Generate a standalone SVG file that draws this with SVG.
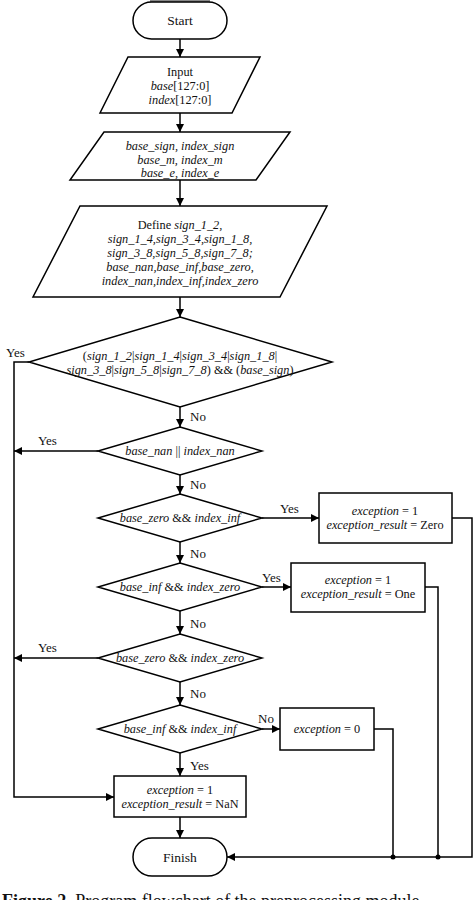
<svg xmlns="http://www.w3.org/2000/svg" width="474" height="900" viewBox="0 0 474 900">
<defs>
<marker id="arr" viewBox="0 0 10 10" refX="10" refY="5" markerWidth="8" markerHeight="8" markerUnits="userSpaceOnUse" orient="auto">
<path d="M0,0 L10,5 L0,10 z" fill="#000"/>
</marker>
<style>
.s{fill:#fff;stroke:#000;stroke-width:1.5}
.c{fill:none;stroke:#000;stroke-width:1.5}
text{font-family:"Liberation Serif","DejaVu Serif",serif;fill:#111}
.t{font-size:12.3px;text-anchor:middle}
.b{font-size:13.5px;text-anchor:middle}
.l{font-size:13px}
.i{font-style:italic}
</style>
</defs>
<rect x="150" y="0" width="60" height="2" fill="#888"/>
<g id="connectors">
<line class="c" x1="180" y1="39" x2="180" y2="57" marker-end="url(#arr)"/>
<line class="c" x1="180" y1="113" x2="180" y2="132" marker-end="url(#arr)"/>
<line class="c" x1="180" y1="180" x2="180" y2="206" marker-end="url(#arr)"/>
<line class="c" x1="180" y1="297" x2="180" y2="317" marker-end="url(#arr)"/>
<line class="c" x1="180" y1="407" x2="180" y2="427" marker-end="url(#arr)"/>
<polyline class="c" points="29,362 14,362 14,797 114,797" marker-end="url(#arr)"/>
<line class="c" x1="98" y1="451" x2="14" y2="451" marker-end="url(#arr)"/>
<line class="c" x1="180" y1="475" x2="180" y2="494" marker-end="url(#arr)"/>
<line class="c" x1="262" y1="518" x2="319" y2="518" marker-end="url(#arr)"/>
<line class="c" x1="180" y1="542" x2="180" y2="563" marker-end="url(#arr)"/>
<line class="c" x1="262" y1="587" x2="291" y2="587" marker-end="url(#arr)"/>
<line class="c" x1="180" y1="611" x2="180" y2="634" marker-end="url(#arr)"/>
<line class="c" x1="98" y1="658" x2="14" y2="658" marker-end="url(#arr)"/>
<line class="c" x1="180" y1="682" x2="180" y2="705" marker-end="url(#arr)"/>
<line class="c" x1="262" y1="729" x2="280" y2="729" marker-end="url(#arr)"/>
<line class="c" x1="180" y1="753" x2="180" y2="776" marker-end="url(#arr)"/>
<line class="c" x1="180" y1="817" x2="180" y2="838" marker-end="url(#arr)"/>
<polyline class="c" points="452,518 472,518 472,857 227,857" marker-end="url(#arr)"/>
<polyline class="c" points="425,587 438,587 438,857"/>
<polyline class="c" points="374,729 393,729 393,857"/>
<circle cx="393" cy="857" r="2.5" fill="#000"/>
<circle cx="438" cy="857" r="2.5" fill="#000"/>
</g>
<g id="labels">
<text class="l" x="6" y="357">Yes</text>
<text class="l" x="190" y="421">No</text>
<text class="l" x="38" y="445">Yes</text>
<text class="l" x="190" y="489">No</text>
<text class="l" x="280" y="513">Yes</text>
<text class="l" x="190" y="558">No</text>
<text class="l" x="262" y="582">Yes</text>
<text class="l" x="190" y="628">No</text>
<text class="l" x="38" y="652">Yes</text>
<text class="l" x="190" y="698">No</text>
<text class="l" x="258" y="723">No</text>
<text class="l" x="190" y="770">Yes</text>
</g>
<g id="start">
<rect class="s" x="133" y="2" width="94" height="37" rx="18.5"/>
<text class="b" x="180" y="25">Start</text>
</g>
<g id="input">
<polygon class="s" points="128,57 260,57 232,113 100,113"/>
<text class="t" x="180" y="76">Input</text>
<text class="t" x="180" y="90"><tspan class="i">base</tspan>[127:0]</text>
<text class="t" x="180" y="104"><tspan class="i">index</tspan>[127:0]</text>
</g>
<g id="fields">
<polygon class="s" points="104,132 290,132 256,180 70,180"/>
<text class="t i" x="180" y="150">base_sign, index_sign</text>
<text class="t i" x="180" y="164">base_m, index_m</text>
<text class="t i" x="180" y="177">base_e, index_e</text>
</g>
<g id="define">
<polygon class="s" points="80,206 327,206 280,297 33,297"/>
<text class="t" x="180" y="229">Define <tspan class="i">sign_1_2,</tspan></text>
<text class="t i" x="180" y="243">sign_1_4,sign_3_4,sign_1_8,</text>
<text class="t i" x="180" y="257">sign_3_8,sign_5_8,sign_7_8;</text>
<text class="t i" x="180" y="271">base_nan,base_inf,base_zero,</text>
<text class="t i" x="180" y="285">index_nan,index_inf,index_zero</text>
</g>
<g id="d1">
<polygon class="s" points="180,317 332,362 180,407 29,362"/>
<text class="t" x="180" y="360">(<tspan class="i">sign_1_2</tspan>|<tspan class="i">sign_1_4</tspan>|<tspan class="i">sign_3_4</tspan>|<tspan class="i">sign_1_8</tspan>|</text>
<text class="t" x="180" y="374"><tspan class="i">sign_3_8</tspan>|<tspan class="i">sign_5_8</tspan>|<tspan class="i">sign_7_8</tspan>) &amp;&amp; (<tspan class="i">base_sign</tspan>)</text>
</g>
<g id="d2">
<polygon class="s" points="180,427 262,451 180,475 98,451"/>
<text class="t" x="180" y="455"><tspan class="i">base_nan</tspan> || <tspan class="i">index_nan</tspan></text>
</g>
<g id="d3">
<polygon class="s" points="180,494 262,518 180,542 98,518"/>
<text class="t" x="180" y="522"><tspan class="i">base_zero</tspan> &amp;&amp; <tspan class="i">index_inf</tspan></text>
</g>
<g id="r_zero">
<rect class="s" x="319" y="493" width="133" height="50"/>
<text class="t" x="385" y="515"><tspan class="i">exception</tspan> = 1</text>
<text class="t" x="385" y="529"><tspan class="i">exception_result</tspan> = Zero</text>
</g>
<g id="d4">
<polygon class="s" points="180,563 262,587 180,611 98,587"/>
<text class="t" x="180" y="591"><tspan class="i">base_inf</tspan> &amp;&amp; <tspan class="i">index_zero</tspan></text>
</g>
<g id="r_one">
<rect class="s" x="291" y="563" width="134" height="49"/>
<text class="t" x="358" y="584"><tspan class="i">exception</tspan> = 1</text>
<text class="t" x="358" y="598"><tspan class="i">exception_result</tspan> = One</text>
</g>
<g id="d5">
<polygon class="s" points="180,634 262,658 180,682 98,658"/>
<text class="t" x="180" y="662"><tspan class="i">base_zero</tspan> &amp;&amp; <tspan class="i">index_zero</tspan></text>
</g>
<g id="d6">
<polygon class="s" points="180,705 262,729 180,753 98,729"/>
<text class="t" x="180" y="733"><tspan class="i">base_inf</tspan> &amp;&amp; <tspan class="i">index_inf</tspan></text>
</g>
<g id="r_exc0">
<rect class="s" x="280" y="708" width="94" height="42"/>
<text class="t" x="327" y="733"><tspan class="i">exception</tspan> = 0</text>
</g>
<g id="r_nan">
<rect class="s" x="114" y="776" width="132" height="41"/>
<text class="t" x="180" y="794"><tspan class="i">exception</tspan> = 1</text>
<text class="t" x="180" y="808"><tspan class="i">exception_result</tspan> = NaN</text>
</g>
<g id="finish">
<rect class="s" x="133" y="838" width="94" height="38" rx="19"/>
<text class="b" x="180" y="862">Finish</text>
</g>
<text x="2" y="907" font-size="18"><tspan font-weight="bold">Figure 2.</tspan> Program flowchart of the preprocessing module.</text>
</svg>
